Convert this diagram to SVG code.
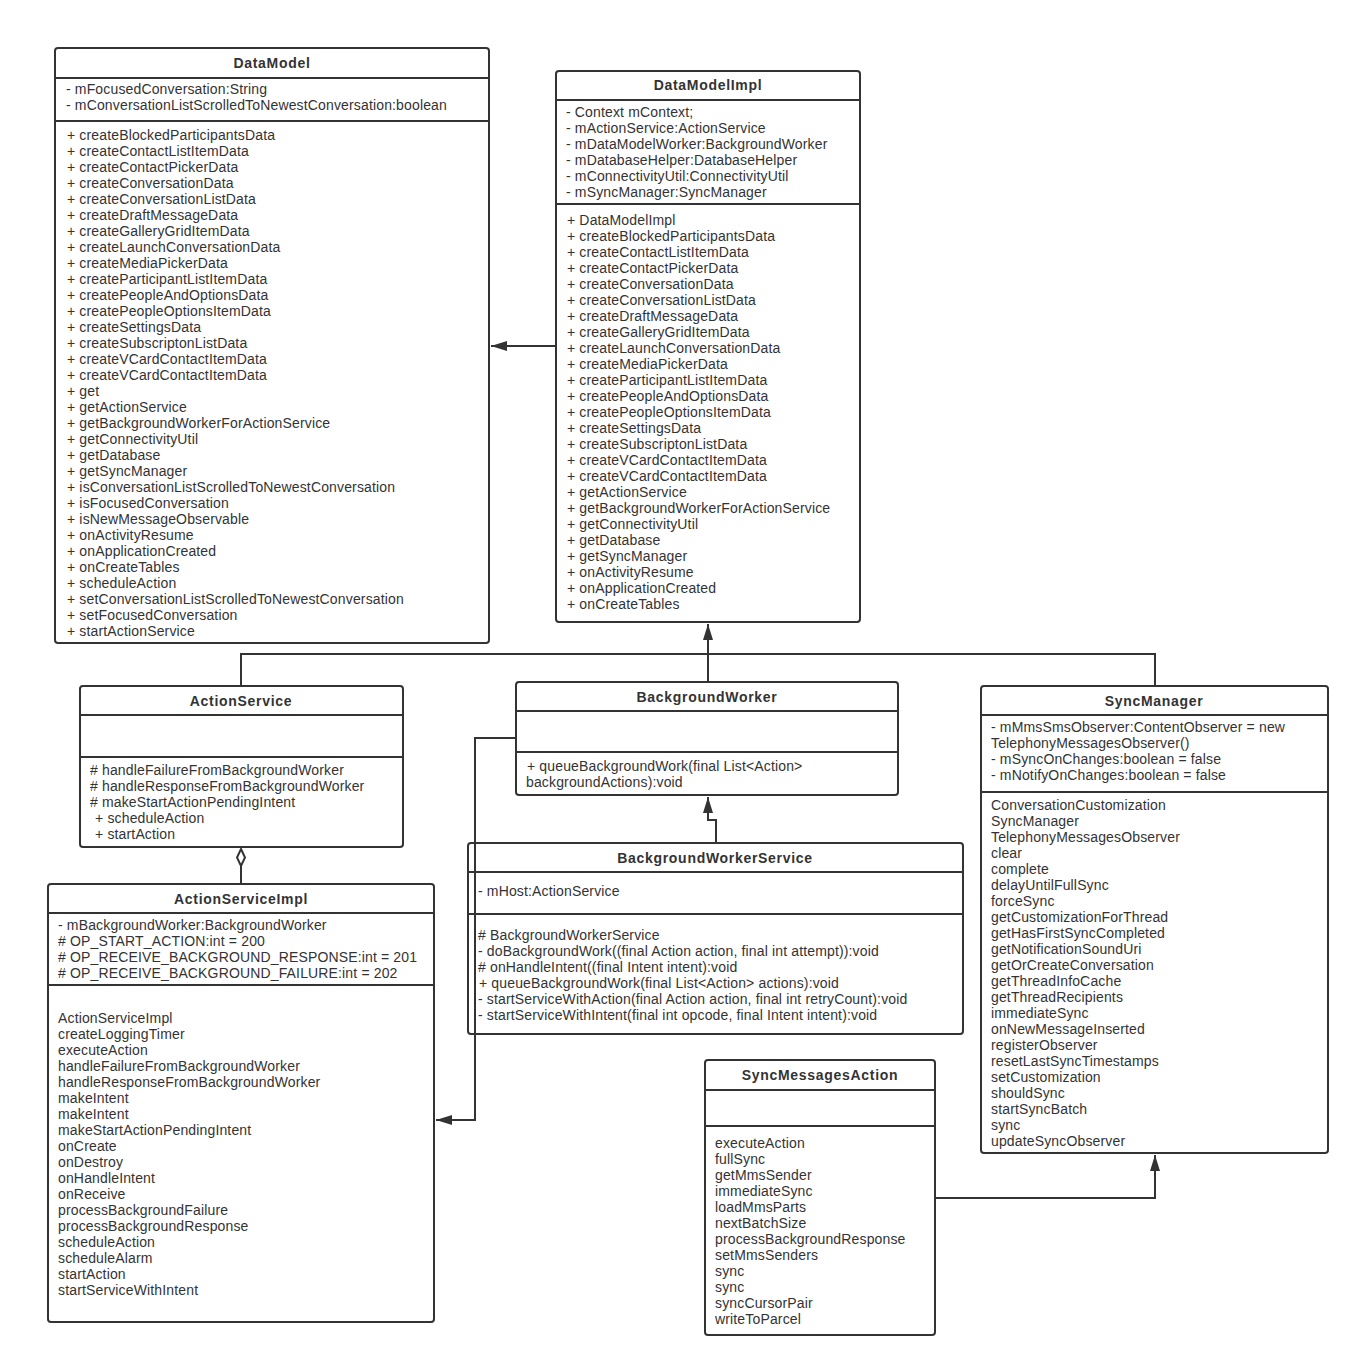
<svg xmlns="http://www.w3.org/2000/svg" width="1359" height="1368" viewBox="0 0 1359 1368">
<defs>
<style>
.box{fill:#fff;stroke:#333;stroke-width:2}
.sep{stroke:#333;stroke-width:2}
.t{font-family:"Liberation Sans",Arial,sans-serif;font-size:14px;fill:#333;letter-spacing:0.15px}
.title{font-weight:bold;text-anchor:middle;letter-spacing:0.7px}
.conn{fill:none;stroke:#333;stroke-width:2}
</style>
<marker id="arr" markerUnits="userSpaceOnUse" markerWidth="16" markerHeight="10" refX="16" refY="5" orient="auto">
<path d="M0,0 L16,5 L0,10 z" fill="#333"/>
</marker>
</defs>
<rect width="1359" height="1368" fill="#fff"/>
<g id="DataModel">
<rect class="box" x="55" y="48" width="434" height="595" rx="3"/>
<line class="sep" x1="55" y1="78" x2="489" y2="78"/>
<line class="sep" x1="55" y1="121" x2="489" y2="121"/>
<text class="t title" x="272" y="68">DataModel</text>
<text class="t"><tspan x="66" y="94">- mFocusedConversation:String</tspan><tspan x="66" dy="16">- mConversationListScrolledToNewestConversation:boolean</tspan></text>
<text class="t"><tspan x="67" y="140">+ createBlockedParticipantsData</tspan><tspan x="67" dy="16">+ createContactListItemData</tspan><tspan x="67" dy="16">+ createContactPickerData</tspan><tspan x="67" dy="16">+ createConversationData</tspan><tspan x="67" dy="16">+ createConversationListData</tspan><tspan x="67" dy="16">+ createDraftMessageData</tspan><tspan x="67" dy="16">+ createGalleryGridItemData</tspan><tspan x="67" dy="16">+ createLaunchConversationData</tspan><tspan x="67" dy="16">+ createMediaPickerData</tspan><tspan x="67" dy="16">+ createParticipantListItemData</tspan><tspan x="67" dy="16">+ createPeopleAndOptionsData</tspan><tspan x="67" dy="16">+ createPeopleOptionsItemData</tspan><tspan x="67" dy="16">+ createSettingsData</tspan><tspan x="67" dy="16">+ createSubscriptonListData</tspan><tspan x="67" dy="16">+ createVCardContactItemData</tspan><tspan x="67" dy="16">+ createVCardContactItemData</tspan><tspan x="67" dy="16">+ get</tspan><tspan x="67" dy="16">+ getActionService</tspan><tspan x="67" dy="16">+ getBackgroundWorkerForActionService</tspan><tspan x="67" dy="16">+ getConnectivityUtil</tspan><tspan x="67" dy="16">+ getDatabase</tspan><tspan x="67" dy="16">+ getSyncManager</tspan><tspan x="67" dy="16">+ isConversationListScrolledToNewestConversation</tspan><tspan x="67" dy="16">+ isFocusedConversation</tspan><tspan x="67" dy="16">+ isNewMessageObservable</tspan><tspan x="67" dy="16">+ onActivityResume</tspan><tspan x="67" dy="16">+ onApplicationCreated</tspan><tspan x="67" dy="16">+ onCreateTables</tspan><tspan x="67" dy="16">+ scheduleAction</tspan><tspan x="67" dy="16">+ setConversationListScrolledToNewestConversation</tspan><tspan x="67" dy="16">+ setFocusedConversation</tspan><tspan x="67" dy="16">+ startActionService</tspan></text>
</g>
<g id="DataModelImpl">
<rect class="box" x="556" y="71" width="304" height="551" rx="3"/>
<line class="sep" x1="556" y1="100" x2="860" y2="100"/>
<line class="sep" x1="556" y1="204" x2="860" y2="204"/>
<text class="t title" x="708" y="90">DataModelImpl</text>
<text class="t"><tspan x="566" y="117">- Context mContext;</tspan><tspan x="566" dy="16">- mActionService:ActionService</tspan><tspan x="566" dy="16">- mDataModelWorker:BackgroundWorker</tspan><tspan x="566" dy="16">- mDatabaseHelper:DatabaseHelper</tspan><tspan x="566" dy="16">- mConnectivityUtil:ConnectivityUtil</tspan><tspan x="566" dy="16">- mSyncManager:SyncManager</tspan></text>
<text class="t"><tspan x="567" y="225">+ DataModelImpl</tspan><tspan x="567" dy="16">+ createBlockedParticipantsData</tspan><tspan x="567" dy="16">+ createContactListItemData</tspan><tspan x="567" dy="16">+ createContactPickerData</tspan><tspan x="567" dy="16">+ createConversationData</tspan><tspan x="567" dy="16">+ createConversationListData</tspan><tspan x="567" dy="16">+ createDraftMessageData</tspan><tspan x="567" dy="16">+ createGalleryGridItemData</tspan><tspan x="567" dy="16">+ createLaunchConversationData</tspan><tspan x="567" dy="16">+ createMediaPickerData</tspan><tspan x="567" dy="16">+ createParticipantListItemData</tspan><tspan x="567" dy="16">+ createPeopleAndOptionsData</tspan><tspan x="567" dy="16">+ createPeopleOptionsItemData</tspan><tspan x="567" dy="16">+ createSettingsData</tspan><tspan x="567" dy="16">+ createSubscriptonListData</tspan><tspan x="567" dy="16">+ createVCardContactItemData</tspan><tspan x="567" dy="16">+ createVCardContactItemData</tspan><tspan x="567" dy="16">+ getActionService</tspan><tspan x="567" dy="16">+ getBackgroundWorkerForActionService</tspan><tspan x="567" dy="16">+ getConnectivityUtil</tspan><tspan x="567" dy="16">+ getDatabase</tspan><tspan x="567" dy="16">+ getSyncManager</tspan><tspan x="567" dy="16">+ onActivityResume</tspan><tspan x="567" dy="16">+ onApplicationCreated</tspan><tspan x="567" dy="16">+ onCreateTables</tspan></text>
</g>
<g id="ActionService">
<rect class="box" x="80" y="686" width="323" height="161" rx="3"/>
<line class="sep" x1="80" y1="715" x2="403" y2="715"/>
<line class="sep" x1="80" y1="757" x2="403" y2="757"/>
<text class="t title" x="241" y="706">ActionService</text>
<text class="t"><tspan x="90" y="775"># handleFailureFromBackgroundWorker</tspan><tspan x="90" dy="16"># handleResponseFromBackgroundWorker</tspan><tspan x="90" dy="16"># makeStartActionPendingIntent</tspan><tspan x="91" dy="16"> + scheduleAction</tspan><tspan x="91" dy="16"> + startAction</tspan></text>
</g>
<g id="ActionServiceImpl">
<rect class="box" x="48" y="884" width="386" height="438" rx="3"/>
<line class="sep" x1="48" y1="913" x2="434" y2="913"/>
<line class="sep" x1="48" y1="985" x2="434" y2="985"/>
<text class="t title" x="241" y="904">ActionServiceImpl</text>
<text class="t"><tspan x="58" y="930">- mBackgroundWorker:BackgroundWorker</tspan><tspan x="58" dy="16"># OP_START_ACTION:int = 200</tspan><tspan x="58" dy="16"># OP_RECEIVE_BACKGROUND_RESPONSE:int = 201</tspan><tspan x="58" dy="16"># OP_RECEIVE_BACKGROUND_FAILURE:int = 202</tspan></text>
<text class="t"><tspan x="58" y="1023">ActionServiceImpl</tspan><tspan x="58" dy="16">createLoggingTimer</tspan><tspan x="58" dy="16">executeAction</tspan><tspan x="58" dy="16">handleFailureFromBackgroundWorker</tspan><tspan x="58" dy="16">handleResponseFromBackgroundWorker</tspan><tspan x="58" dy="16">makeIntent</tspan><tspan x="58" dy="16">makeIntent</tspan><tspan x="58" dy="16">makeStartActionPendingIntent</tspan><tspan x="58" dy="16">onCreate</tspan><tspan x="58" dy="16">onDestroy</tspan><tspan x="58" dy="16">onHandleIntent</tspan><tspan x="58" dy="16">onReceive</tspan><tspan x="58" dy="16">processBackgroundFailure</tspan><tspan x="58" dy="16">processBackgroundResponse</tspan><tspan x="58" dy="16">scheduleAction</tspan><tspan x="58" dy="16">scheduleAlarm</tspan><tspan x="58" dy="16">startAction</tspan><tspan x="58" dy="16">startServiceWithIntent</tspan></text>
</g>
<g id="BackgroundWorker">
<rect class="box" x="516" y="682" width="382" height="113" rx="3"/>
<line class="sep" x1="516" y1="711" x2="898" y2="711"/>
<line class="sep" x1="516" y1="752" x2="898" y2="752"/>
<text class="t title" x="707" y="702">BackgroundWorker</text>
<text class="t"><tspan x="527" y="771">+ queueBackgroundWork(final List&lt;Action&gt;</tspan><tspan x="526" dy="16">backgroundActions):void</tspan></text>
</g>
<g id="BackgroundWorkerService">
<rect class="box" x="468" y="843" width="495" height="191" rx="3"/>
<line class="sep" x1="468" y1="872" x2="963" y2="872"/>
<line class="sep" x1="468" y1="914" x2="963" y2="914"/>
<text class="t title" x="715" y="863">BackgroundWorkerService</text>
<text class="t"><tspan x="478" y="896">- mHost:ActionService</tspan></text>
<text class="t"><tspan x="478" y="940"># BackgroundWorkerService</tspan><tspan x="478" dy="16">- doBackgroundWork((final Action action, final int attempt)):void</tspan><tspan x="478" dy="16"># onHandleIntent((final Intent intent):void</tspan><tspan x="479" dy="16">+ queueBackgroundWork(final List&lt;Action&gt; actions):void</tspan><tspan x="478" dy="16">- startServiceWithAction(final Action action, final int retryCount):void</tspan><tspan x="478" dy="16">- startServiceWithIntent(final int opcode, final Intent intent):void</tspan></text>
</g>
<g id="SyncManager">
<rect class="box" x="981" y="686" width="347" height="467" rx="3"/>
<line class="sep" x1="981" y1="715" x2="1328" y2="715"/>
<line class="sep" x1="981" y1="792" x2="1328" y2="792"/>
<text class="t title" x="1154" y="706">SyncManager</text>
<text class="t"><tspan x="991" y="732">- mMmsSmsObserver:ContentObserver = new</tspan><tspan x="991" dy="16">TelephonyMessagesObserver()</tspan><tspan x="991" dy="16">- mSyncOnChanges:boolean = false</tspan><tspan x="991" dy="16">- mNotifyOnChanges:boolean = false</tspan></text>
<text class="t"><tspan x="991" y="810">ConversationCustomization</tspan><tspan x="991" dy="16">SyncManager</tspan><tspan x="991" dy="16">TelephonyMessagesObserver</tspan><tspan x="991" dy="16">clear</tspan><tspan x="991" dy="16">complete</tspan><tspan x="991" dy="16">delayUntilFullSync</tspan><tspan x="991" dy="16">forceSync</tspan><tspan x="991" dy="16">getCustomizationForThread</tspan><tspan x="991" dy="16">getHasFirstSyncCompleted</tspan><tspan x="991" dy="16">getNotificationSoundUri</tspan><tspan x="991" dy="16">getOrCreateConversation</tspan><tspan x="991" dy="16">getThreadInfoCache</tspan><tspan x="991" dy="16">getThreadRecipients</tspan><tspan x="991" dy="16">immediateSync</tspan><tspan x="991" dy="16">onNewMessageInserted</tspan><tspan x="991" dy="16">registerObserver</tspan><tspan x="991" dy="16">resetLastSyncTimestamps</tspan><tspan x="991" dy="16">setCustomization</tspan><tspan x="991" dy="16">shouldSync</tspan><tspan x="991" dy="16">startSyncBatch</tspan><tspan x="991" dy="16">sync</tspan><tspan x="991" dy="16">updateSyncObserver</tspan></text>
</g>
<g id="SyncMessagesAction">
<rect class="box" x="705" y="1060" width="230" height="275" rx="3"/>
<line class="sep" x1="705" y1="1090" x2="935" y2="1090"/>
<line class="sep" x1="705" y1="1126" x2="935" y2="1126"/>
<text class="t title" x="820" y="1080">SyncMessagesAction</text>
<text class="t"><tspan x="715" y="1148">executeAction</tspan><tspan x="715" dy="16">fullSync</tspan><tspan x="715" dy="16">getMmsSender</tspan><tspan x="715" dy="16">immediateSync</tspan><tspan x="715" dy="16">loadMmsParts</tspan><tspan x="715" dy="16">nextBatchSize</tspan><tspan x="715" dy="16">processBackgroundResponse</tspan><tspan x="715" dy="16">setMmsSenders</tspan><tspan x="715" dy="16">sync</tspan><tspan x="715" dy="16">sync</tspan><tspan x="715" dy="16">syncCursorPair</tspan><tspan x="715" dy="16">writeToParcel</tspan></text>
</g>
<g id="connectors">
<path class="conn" d="M556,346 H491" marker-end="url(#arr)"/>
<path class="conn" d="M708,682 V624" marker-end="url(#arr)"/>
<path class="conn" d="M241,686 V654 H1155 V686"/>
<path class="conn" d="M716,843 V820 H708 V797" marker-end="url(#arr)"/>
<path class="conn" d="M516,738 H475 V1120 H436" marker-end="url(#arr)"/>
<path class="conn" d="M241,884 V866"/>
<path d="M241,849 L245,857.5 L241,866 L237,857.5 z" fill="#fff" stroke="#333" stroke-width="2"/>
<path class="conn" d="M935,1198 H1155 V1155" marker-end="url(#arr)"/>
</g>
</svg>
